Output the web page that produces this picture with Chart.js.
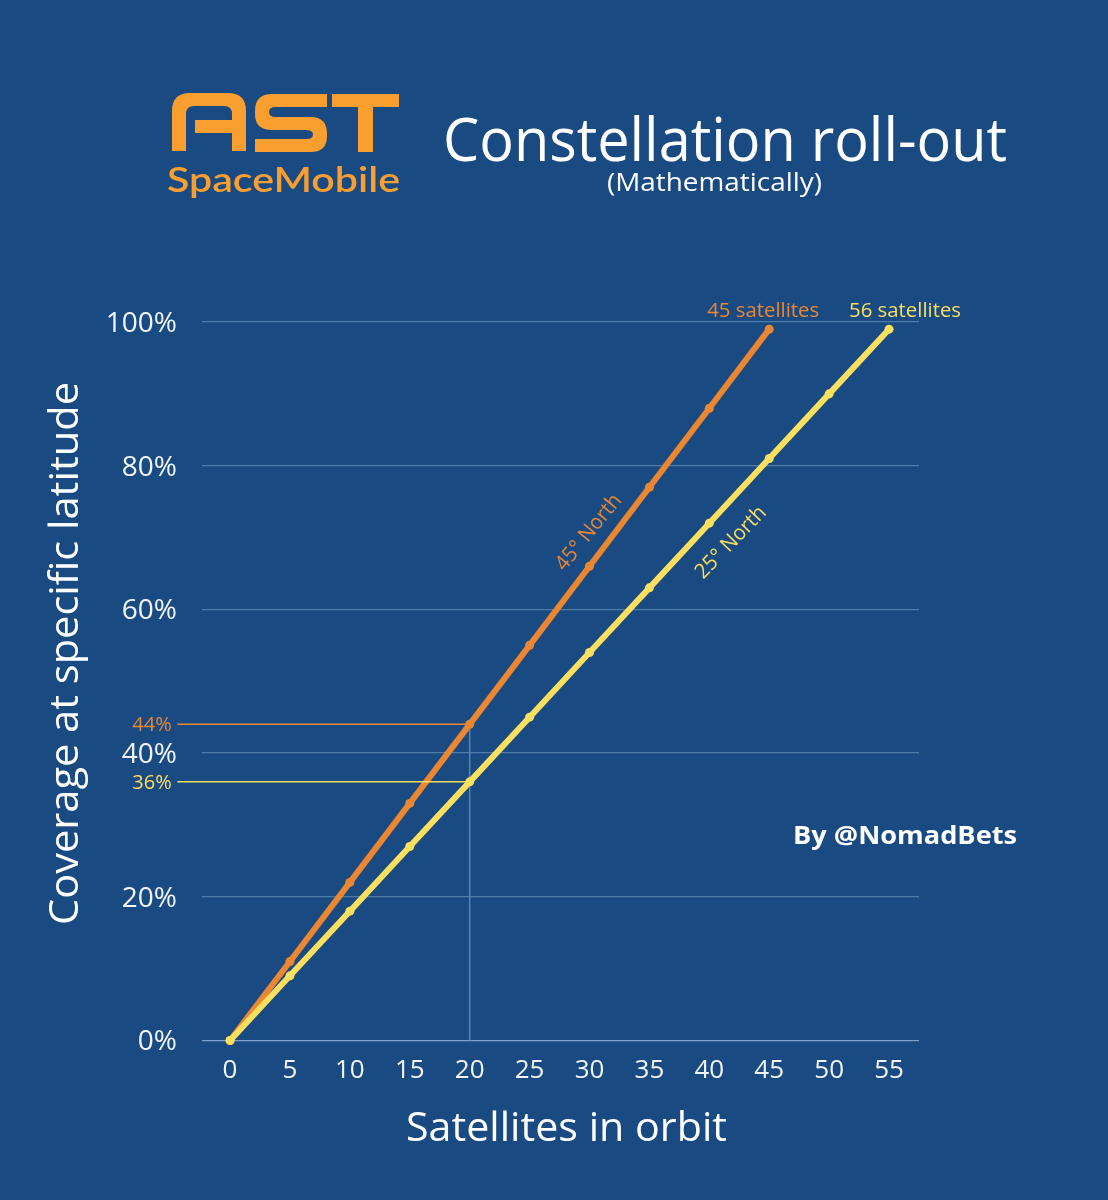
<!DOCTYPE html>
<html>
<head>
<meta charset="utf-8">
<script src="https://cdn.jsdelivr.net/npm/chart.js@4"></script>
<style>
html,body{margin:0;padding:0;background:#1a4a82;width:1108px;height:1200px;overflow:hidden}
#wrap{position:relative;width:1108px;height:1200px}
canvas{position:absolute;left:0;top:0}
svg{position:absolute;left:0;top:0}
text{font-family:"Open Sans",sans-serif}
</style>
</head>
<body>
<div id="wrap">
<canvas id="c" width="1108" height="1200"></canvas>
<svg width="1108" height="1200" viewBox="0 0 1108 1200">
  <g fill="#fa9f2f">
    <path fill-rule="evenodd" d="M172 151V111Q172 93 190 93H228Q246 93 246 111V151H232V133H195V120H232V114Q232 106 224 106H194Q186 106 186 114V151Z"/>
    <path d="M255 111Q255 94 272 94H327V107H276Q269 107 269 112Q269 117 276 117H311Q327 117 327 134V136Q327 152 311 152H255V139H306Q313 139 313 134.5Q313 130 306 130H272Q255 130 255 114Z"/>
    <path d="M332 94H399V107H373V152H358V107H332Z"/>
  </g>
  <text x="167" y="192" font-size="35" font-weight="600" fill="#fa9f2f" style="font-family:Lato,sans-serif" textLength="233" lengthAdjust="spacingAndGlyphs">SpaceMobile</text>
  <text x="443" y="161" font-size="60" fill="#ffffff" textLength="564" lengthAdjust="spacingAndGlyphs">Constellation roll-out</text>
  <text x="607" y="191" font-size="25" fill="#ffffff" textLength="215" lengthAdjust="spacingAndGlyphs">(Mathematically)</text>
  <text transform="translate(78 925) rotate(-90)" font-size="41" fill="#ffffff" textLength="543" lengthAdjust="spacingAndGlyphs">Coverage at specific latitude</text>
  <text x="406" y="1141" font-size="41" fill="#ffffff" textLength="321" lengthAdjust="spacingAndGlyphs">Satellites in orbit</text>
  <text x="793" y="844" font-size="25" font-weight="700" fill="#ffffff" textLength="224" lengthAdjust="spacingAndGlyphs">By @NomadBets</text>
</svg>
</div>
<script>
const xTicks = [0,5,10,15,20,25,30,35,40,45,50,55];
const yTicks = [0,20,40,60,80,100];
const north45X = [0,5,10,15,20,25,30,35,40,45];
const north45Y = [0,11,22,33,44,55,66,77,88,99];
const north25X = [0,5,10,15,20,25,30,35,40,45,50,55];
const north25Y = [0,9,18,27,36,45,54,63,72,81,90,99];
const guideX = [-4.4,20];
const guide44 = [44,44];
const guide36 = [36,36];
const dropX = [20,20];
const dropY = [0,44];

const ORANGE = '#ea8730';
const YELLOW = '#fbdf5e';
const pts = (xs,ys)=>xs.map((x,i)=>({x,y:ys[i]}));

const notes = [
  {t:'45 satellites', x:45, y:99, dx:-62, dy:-12, w:112, c:ORANGE, size:20.5},
  {t:'56 satellites', x:55, y:99, dx:-40, dy:-12, w:112, c:YELLOW, size:20.5},
  {t:'44%', x:-4.4, y:44, dx:-45, dy:7, w:43, c:ORANGE, size:20},
  {t:'36%', x:-4.4, y:36, dx:-45, dy:7, w:43, c:YELLOW, size:20},
  {t:'45° North', x:28, y:61.3, dx:-1, dy:-28, w:92, c:ORANGE, size:21, rot:-51},
  {t:'25° North', x:40, y:63, dx:-6, dy:-8, w:92, c:YELLOW, size:21, rot:-46}
];

const notesPlugin = {
  id:'notes',
  afterDatasetsDraw(chart){
    const {ctx,scales:{x,y}} = chart;
    for(const n of notes){
      ctx.save();
      ctx.translate(x.getPixelForValue(n.x)+n.dx, y.getPixelForValue(n.y)+n.dy);
      if(n.rot) ctx.rotate(n.rot*Math.PI/180);
      ctx.font = n.size+'px "Open Sans", sans-serif';
      ctx.fillStyle = n.c;
      ctx.textAlign='left';
      ctx.textBaseline='alphabetic';
      ctx.fillText(n.t,0,0,n.w);
      ctx.restore();
    }
  }
};

const guide = (data,color,order)=>({data,borderColor:color,borderWidth:1.5,pointRadius:0,order,clip:false,fill:false,tension:0});
const line = (data,color,order)=>({data,borderColor:color,backgroundColor:color,borderWidth:6,pointRadius:4.5,pointBackgroundColor:color,pointBorderWidth:0,order,clip:false,tension:0});

new Chart(document.getElementById('c'),{
  type:'scatter',
  data:{datasets:[
    {...line(pts(north25X,north25Y),YELLOW,0),showLine:true,label:'25° North'},
    {...guide(pts(guideX,guide36),YELLOW,1),showLine:true,label:'36%'},
    {...line(pts(north45X,north45Y),ORANGE,2),showLine:true,label:'45° North'},
    {...guide(pts(guideX,guide44),ORANGE,3),showLine:true,label:'44%'},
    {...guide(pts(dropX,dropY),'#5b83ae',4),showLine:true,label:'20 satellites'}
  ]},
  options:{
    responsive:false,
    animation:false,
    devicePixelRatio:1,
    layout:{padding:{left:0,right:189,top:322,bottom:0}},
    plugins:{legend:{display:false},tooltip:{enabled:false},title:{display:false}},
    scales:{
      x:{
        type:'linear',min:-2.34,max:57.5,
        afterBuildTicks(s){s.ticks=xTicks.map(value=>({value}));},
        afterFit(s){s.height=159.5;},
        grid:{display:false},
        border:{display:false},
        ticks:{color:'#f2f6fa',padding:6,maxRotation:0,autoSkip:false,font:{family:'"Open Sans"',size:26}}
      },
      y:{
        type:'linear',min:0,max:100,
        afterBuildTicks(s){s.ticks=yTicks.map(value=>({value}));},
        afterFit(s){s.width=202;},
        grid:{drawTicks:false,lineWidth:1.3,color:c=>c.tick&&c.tick.value===0?'#7fa3cf':'#4f7ba9'},
        border:{display:false},
        ticks:{color:'#f2f6fa',padding:25,labelOffset:2,autoSkip:false,callback:v=>v+'%',font:{family:'"Open Sans"',size:28}}
      }
    }
  },
  plugins:[notesPlugin]
});
</script>
</body>
</html>
